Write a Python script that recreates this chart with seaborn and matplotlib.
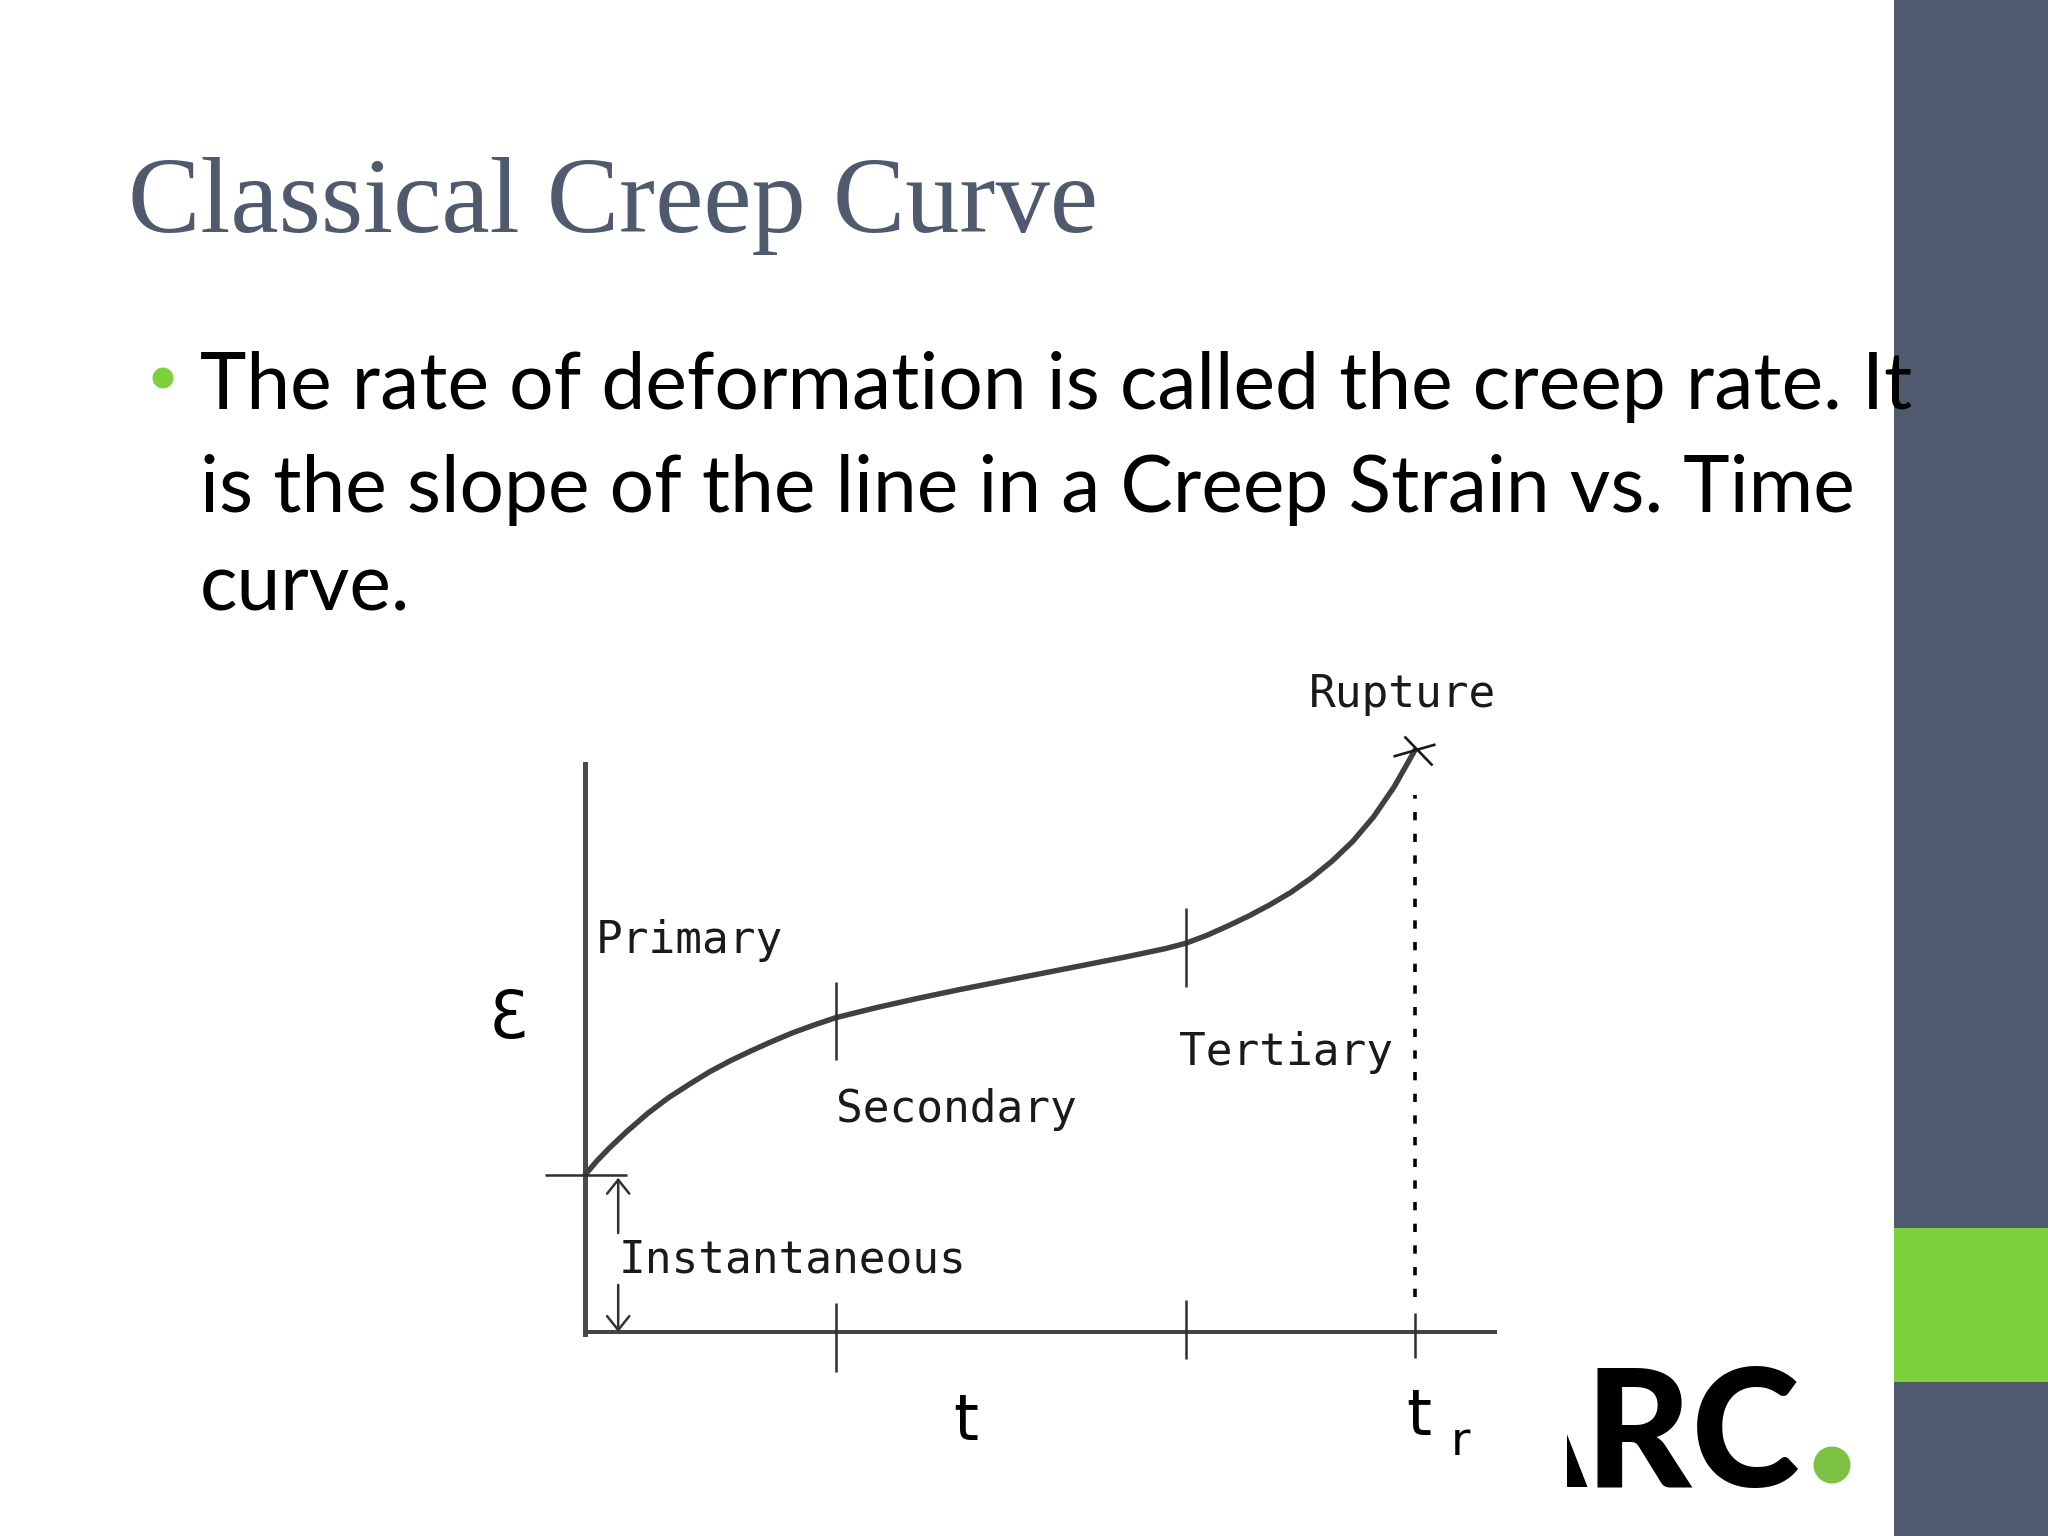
import numpy as np
import pandas as pd
import matplotlib
matplotlib.use("Agg")
import matplotlib.pyplot as plt
import seaborn as sns
from matplotlib.patches import Rectangle, Ellipse
from matplotlib.path import Path
from matplotlib.transforms import Bbox

# ---------------- data ----------------
title = "Classical Creep Curve"
bullet_lines = [
    "The rate of deformation is called the creep rate. It",
    "is the slope of the line in a Creep Strain vs. Time",
    "curve.",
]
# creep curve: time (arbitrary units, t_r = 10) vs strain (arbitrary units)
time = [0.00, 0.15, 0.30, 0.50, 0.75, 1.00, 1.25, 1.50, 1.75, 2.00, 2.25, 2.50,
        2.75, 3.02, 3.50, 4.00, 4.50, 5.00, 5.50, 6.00, 6.50, 7.00, 7.24, 7.50,
        7.75, 8.00, 8.25, 8.50, 8.75, 9.00, 9.25, 9.50, 9.75, 10.00]
strain = [2.70, 2.95, 3.17, 3.44, 3.75, 4.02, 4.25, 4.47, 4.66, 4.83, 4.99, 5.14,
          5.27, 5.40, 5.57, 5.73, 5.88, 6.02, 6.16, 6.30, 6.44, 6.59, 6.68, 6.82,
          6.98, 7.15, 7.34, 7.55, 7.80, 8.09, 8.43, 8.85, 9.37, 10.00]
stage_bounds = [3.02, 7.24]          # primary/secondary, secondary/tertiary
t_rupture = 10.0
eps_rupture = 10.0
eps_instant = 2.70
stage_labels = ["Primary", "Secondary", "Tertiary", "Instantaneous", "Rupture"]
axis_labels = ["\u0190", "t", "t", "r"]

# ---------------- styling ----------------
sns.set_theme(style="white")
plt.rcParams["font.family"] = ["DejaVu Sans"]

W, H = 2048, 1536
fig = plt.figure(figsize=(W / 100, H / 100), dpi=100)
fig.patch.set_facecolor("white")
SLATE = "#4f5a6f"
GREEN = "#7dd13d"

def fx(px):
    return px / W

def fy(py):
    return 1 - py / H

# right side bar + green block
fig.patches.append(Rectangle((fx(1894), 0), fx(W - 1894), 1, transform=fig.transFigure,
                             facecolor=SLATE, edgecolor="none", zorder=1))
fig.patches.append(Rectangle((fx(1894), fy(1382)), fx(W - 1894), (1382 - 1228) / H,
                             transform=fig.transFigure, facecolor=GREEN,
                             edgecolor="none", zorder=1))

renderer = fig.canvas.get_renderer()

def fit_width(txt, target):
    w = txt.get_window_extent(renderer).width
    txt.set_fontsize(txt.get_fontsize() * target / w)

# title
tt = fig.text(fx(128), fy(232), title, family="Liberation Serif", fontsize=80,
              color=SLATE, ha="left", va="baseline", zorder=3)
fit_width(tt, 970)

# bullet
fig.patches.append(Ellipse((fx(163), fy(378)), 21 / W, 21 / H, transform=fig.transFigure,
                           facecolor=GREEN, edgecolor="none", zorder=2))
baselines = [409, 512, 611]
btexts = []
for line, b in zip(bullet_lines, baselines):
    btexts.append(fig.text(fx(200), fy(b), line, family="Lato", fontsize=60,
                           color="black", ha="left", va="baseline", zorder=3))
w0 = btexts[0].get_window_extent(renderer).width
scale = 1715 / w0
for t in btexts:
    t.set_fontsize(t.get_fontsize() * scale)

# logo fragment "ARC."
logo = fig.text(fx(1800), fy(1487), "ARC", family="Lato", fontweight="black",
                fontsize=118, color="black", ha="right", va="baseline", zorder=3)
logo.set_clip_box(Bbox.from_extents(1567, 0, 1893, H))
fig.patches.append(Ellipse((fx(1832), fy(1465)), 37 / W, 37 / H, transform=fig.transFigure,
                           facecolor="#7cc142", edgecolor="none", zorder=2))

# ---------------- creep chart ----------------
ax = fig.add_axes([0.22485, 0.038086, 0.52686, 0.51152])
ax.set_xlim(-1.5, 11.5)
ax.set_ylim(-2.5, 11.0)
ax.patch.set_visible(False)
for s in ["top", "right"]:
    ax.spines[s].set_visible(False)
ax.spines["left"].set_position(("data", 0))
ax.spines["bottom"].set_position(("data", 0))
ax.spines["left"].set_bounds(-0.03, 9.76)
ax.spines["bottom"].set_bounds(0, 10.96)
ax.spines["left"].set_linewidth(3.6)
ax.spines["bottom"].set_linewidth(2.9)
ax.spines["left"].set_color("#4a4a4a")
ax.spines["bottom"].set_color("#444444")
ax.set_xticks([])
ax.set_yticks([])

df = pd.DataFrame({"time": time, "strain": strain})
sns.lineplot(data=df, x="time", y="strain", ax=ax, sort=False, estimator=None,
             color="#404040", linewidth=3.9, zorder=3,
             solid_joinstyle="round", solid_capstyle="round")
ax.set_xlabel("")
ax.set_ylabel("")

tick_col = "#2e2e2e"
# ticks on time axis
x_ticks = stage_bounds + [t_rupture]
x_tick_lo = [-0.69, -0.46, -0.45]
x_tick_hi = [0.50, 0.55, 0.33]
ax.vlines(x_ticks, x_tick_lo, x_tick_hi, colors=tick_col, linewidth=1.8, zorder=4)
# ticks on the curve at stage boundaries
ax.vlines(stage_bounds, [4.67, 5.93], [6.01, 7.29], colors=tick_col, linewidth=1.8, zorder=4)
# instantaneous strain tick on strain axis
ax.hlines([eps_instant], -0.48, 0.51, colors=tick_col, linewidth=1.8, zorder=4)

# dotted line at rupture time
ax.plot([t_rupture, t_rupture], [0.60, 9.23], color="black", linewidth=2.6,
        linestyle=(0, (2.3, 3.7)), zorder=2)

# rupture cross
cross = Path([(-22, -6), (20, 6), (-11, 14), (17, -15)],
             [Path.MOVETO, Path.LINETO, Path.MOVETO, Path.LINETO])
ax.plot([t_rupture], [eps_rupture], marker=cross, markersize=31.7, markeredgewidth=1.9,
        markeredgecolor="#1a1a1a", markerfacecolor="none", linestyle="none", zorder=5)

# instantaneous double arrow
arr = dict(arrowstyle="->,head_length=0.5,head_width=0.4", mutation_scale=20,
           lw=1.8, color="#333333", shrinkA=0, shrinkB=0)
ax.annotate("", xy=(0.40, eps_instant - 0.05), xytext=(0.40, 1.70), arrowprops=arr)
ax.annotate("", xy=(0.40, 0.0), xytext=(0.40, 0.81), arrowprops=arr)

# labels
mono = dict(family="DejaVu Sans Mono", fontsize=32, color="#1a1a1a",
            ha="left", va="baseline")
ax.text(0.13, 6.51, stage_labels[0], **mono)
ax.text(3.03, 3.61, stage_labels[1], **mono)
ax.text(7.16, 4.59, stage_labels[2], **mono)
ax.text(0.41, 1.03, stage_labels[3], **mono)
ax.text(8.72, 10.74, stage_labels[4], **mono)

ax.text(-0.91, 5.05, axis_labels[0], family=["DejaVu Sans Mono", "DejaVu Sans"],
        fontsize=47, color="black", ha="center", va="baseline")
ax.text(4.59, -1.86, axis_labels[1], family="DejaVu Sans", fontsize=46,
        color="black", ha="center", va="baseline")
ax.text(10.04, -1.77, axis_labels[2], family="DejaVu Sans", fontsize=46,
        color="black", ha="center", va="baseline")
ax.text(10.43, -2.11, axis_labels[3], family="DejaVu Sans", fontsize=34,
        color="black", ha="left", va="baseline")

fig.savefig("out.png", dpi=100, facecolor="white")
